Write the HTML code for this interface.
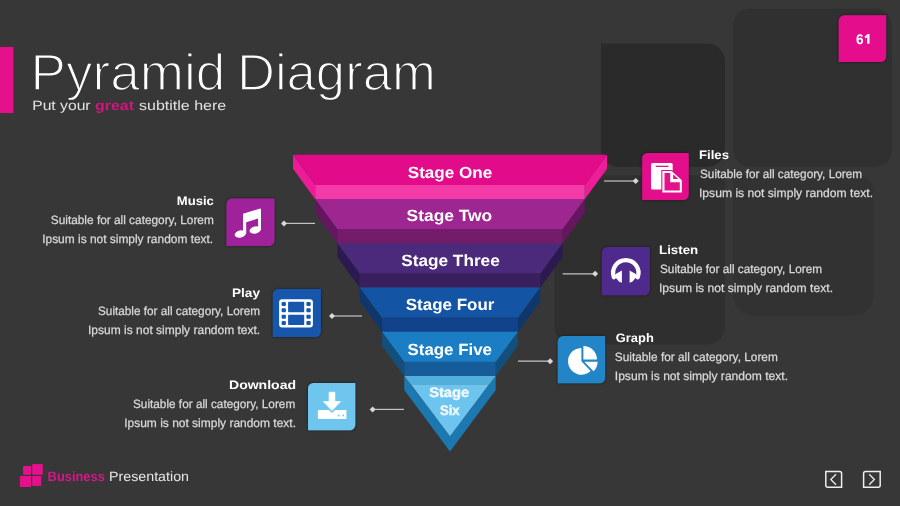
<!DOCTYPE html>
<html><head><meta charset="utf-8"><style>
html,body{margin:0;padding:0;background:#373737;}
body{width:900px;height:506px;overflow:hidden;}
svg{display:block;font-family:"Liberation Sans",sans-serif;will-change:transform;text-rendering:geometricPrecision;}
</style></head><body>
<svg width="900" height="506" viewBox="0 0 900 506">
<defs><filter id="sh" x="-20%" y="-20%" width="140%" height="140%"><feGaussianBlur in="SourceAlpha" stdDeviation="1.8"/><feComponentTransfer><feFuncA type="linear" slope="0.55"/></feComponentTransfer><feMerge><feMergeNode/><feMergeNode in="SourceGraphic"/></feMerge></filter></defs>
<rect width="900" height="506" fill="#373737"/>
<path d="M554.5,175.5 H725 V326.5 A18,18 0 0 1 707,344.5 H572.5 A18,18 0 0 1 554.5,326.5 Z" fill="#2f2f2f"/>
<path d="M601,43.5 H707 A18,18 0 0 1 725,61.5 V149 A18,18 0 0 1 707,167 H619 A18,18 0 0 1 601,149 Z" fill="#2a2a2a"/>
<path d="M733,175.5 H858.5 A15,15 0 0 1 873.5,190.5 V295.5 A20,20 0 0 1 853.5,315.5 H753 A20,20 0 0 1 733,295.5 Z" fill="#323232"/>
<rect x="733" y="8.7" width="159" height="158" rx="17" fill="#303030"/>
<rect x="0" y="47" width="13.4" height="66" fill="#e4108c"/>
<polygon points="293.00,154.80 315.26,185.10 315.26,199.32 293.00,168.80" fill="#ee1c98"/>
<polygon points="607.00,154.80 584.74,185.10 584.74,199.32 607.00,168.80" fill="#ee1c98"/>
<polygon points="293.00,154.80 607.00,154.80 584.74,185.10 315.26,185.10" fill="#e20b8a"/>
<polygon points="315.26,184.90 584.74,184.90 584.74,199.32 315.26,199.32" fill="#f43aa6"/>
<polygon points="315.26,199.02 337.52,229.32 337.52,243.54 315.26,213.02" fill="#661660"/>
<polygon points="584.74,199.02 562.48,229.32 562.48,243.54 584.74,213.02" fill="#661660"/>
<polygon points="315.26,199.02 584.74,199.02 562.48,229.32 337.52,229.32" fill="#9e2690"/>
<polygon points="337.52,229.12 562.48,229.12 562.48,243.54 337.52,243.54" fill="#741c6a"/>
<polygon points="337.52,243.24 359.78,273.54 359.78,287.76 337.52,257.24" fill="#2c1950"/>
<polygon points="562.48,243.24 540.22,273.54 540.22,287.76 562.48,257.24" fill="#2c1950"/>
<polygon points="337.52,243.24 562.48,243.24 540.22,273.54 359.78,273.54" fill="#4b2a7c"/>
<polygon points="359.78,273.34 540.22,273.34 540.22,287.76 359.78,287.76" fill="#3a1f5e"/>
<polygon points="359.78,287.46 382.04,317.76 382.04,331.98 359.78,301.46" fill="#0f376c"/>
<polygon points="540.22,287.46 517.96,317.76 517.96,331.98 540.22,301.46" fill="#0f376c"/>
<polygon points="359.78,287.46 540.22,287.46 517.96,317.76 382.04,317.76" fill="#1454a4"/>
<polygon points="382.04,317.56 517.96,317.56 517.96,331.98 382.04,331.98" fill="#12428a"/>
<polygon points="382.04,331.68 404.30,361.98 404.30,376.20 382.04,345.68" fill="#124f7c"/>
<polygon points="517.96,331.68 495.70,361.98 495.70,376.20 517.96,345.68" fill="#124f7c"/>
<polygon points="382.04,331.68 517.96,331.68 495.70,361.98 404.30,361.98" fill="#1b7dc4"/>
<polygon points="404.30,361.78 495.70,361.78 495.70,376.20 404.30,376.20" fill="#165c98"/>
<polygon points="404.30,375.90 450.00,436.30 450.00,451.40 404.30,389.90" fill="#1b78b0"/>
<polygon points="495.70,375.90 450.00,436.30 450.00,451.40 495.70,389.90" fill="#1b78b0"/>
<polygon points="404.30,375.90 495.70,375.90 488.97,384.80 411.03,384.80" fill="#52afdc"/>
<polygon points="411.03,384.60 488.97,384.60 450.00,436.30" fill="#6dc5ef"/>
<line x1="284.0" y1="223.4" x2="315.0" y2="223.4" stroke="#c4c4c4" stroke-width="1.2"/><path d="M284.0,220.4 l3,3 l-3,3 l-3,-3 z" fill="#d8d8d8"/>
<line x1="332.0" y1="316.0" x2="362.0" y2="316.0" stroke="#c4c4c4" stroke-width="1.2"/><path d="M332.0,313.0 l3,3 l-3,3 l-3,-3 z" fill="#d8d8d8"/>
<line x1="372.6" y1="409.4" x2="404.0" y2="409.4" stroke="#c4c4c4" stroke-width="1.2"/><path d="M372.6,406.4 l3,3 l-3,3 l-3,-3 z" fill="#d8d8d8"/>
<line x1="604.0" y1="181.0" x2="635.7" y2="181.0" stroke="#c4c4c4" stroke-width="1.2"/><path d="M635.7,178.0 l3,3 l-3,3 l-3,-3 z" fill="#d8d8d8"/>
<line x1="562.7" y1="273.8" x2="595.1" y2="273.8" stroke="#c4c4c4" stroke-width="1.2"/><path d="M595.1,270.8 l3,3 l-3,3 l-3,-3 z" fill="#d8d8d8"/>
<line x1="518.0" y1="361.2" x2="550.1" y2="361.2" stroke="#c4c4c4" stroke-width="1.2"/><path d="M550.1,358.2 l3,3 l-3,3 l-3,-3 z" fill="#d8d8d8"/>
<path filter="url(#sh)" d="M232.00,198.50 H274.50 V240.40 A5.50,5.50 0 0 1 269.00,245.90 H226.50 V204.00 A5.50,5.50 0 0 1 232.00,198.50 Z" fill="#a0229a"/>
<path d="M243,213.8 L259.4,208.7 Q261,208.3 261,209.8 V230 H258.1 V218.6 L246.2,222.3 V233.5 H243 Z" fill="#ffffff"/>
<ellipse cx="240.3" cy="234" rx="5.7" ry="3.5" transform="rotate(-12 240.3 234)" fill="#ffffff"/>
<ellipse cx="255.2" cy="230" rx="5.7" ry="3.5" transform="rotate(-12 255.2 230)" fill="#ffffff"/>
<path filter="url(#sh)" d="M278.30,289.10 H320.80 V331.60 A5.50,5.50 0 0 1 315.30,337.10 H272.80 V294.60 A5.50,5.50 0 0 1 278.30,289.10 Z" fill="#1757ad"/>
<rect x="279.1" y="299.2" width="33.8" height="28.3" rx="3" fill="#ffffff"/>
<rect x="281.6" y="301.9" width="4.3" height="4.0" rx="1" fill="#1757ad"/>
<rect x="306.4" y="301.9" width="4.3" height="4.0" rx="1" fill="#1757ad"/>
<rect x="281.6" y="308.3" width="4.3" height="4.0" rx="1" fill="#1757ad"/>
<rect x="306.4" y="308.3" width="4.3" height="4.0" rx="1" fill="#1757ad"/>
<rect x="281.6" y="314.7" width="4.3" height="4.0" rx="1" fill="#1757ad"/>
<rect x="306.4" y="314.7" width="4.3" height="4.0" rx="1" fill="#1757ad"/>
<rect x="281.6" y="321.0" width="4.3" height="4.0" rx="1" fill="#1757ad"/>
<rect x="306.4" y="321.0" width="4.3" height="4.0" rx="1" fill="#1757ad"/>
<rect x="288.1" y="301.7" width="16.1" height="10.5" rx="0.8" fill="#1757ad"/>
<rect x="288.1" y="314.7" width="16.1" height="10.3" rx="0.8" fill="#1757ad"/>
<path filter="url(#sh)" d="M313.50,383.00 H355.30 V424.80 A5.50,5.50 0 0 1 349.80,430.30 H308.00 V388.50 A5.50,5.50 0 0 1 313.50,383.00 Z" fill="#6ec6ee"/>
<path d="M329.1,392.2 H334.9 V401.6 H340.6 L332,410.6 L323.4,401.6 H329.1 Z" fill="#ffffff" stroke="#ffffff" stroke-width="0.7" stroke-linejoin="round"/>
<path d="M317.9,409.9 H328.9 L332,413.0 L335.1,409.9 H346.4 V418.9 H317.9 Z" fill="#ffffff"/>
<rect x="337.8" y="414.7" width="1.6" height="1.6" fill="#6ec6ee"/>
<rect x="342.4" y="414.7" width="1.6" height="1.6" fill="#6ec6ee"/>
<path filter="url(#sh)" d="M647.70,153.00 H688.70 V194.50 A5.50,5.50 0 0 1 683.20,200.00 H642.20 V158.50 A5.50,5.50 0 0 1 647.70,153.00 Z" fill="#e4108c"/>
<rect x="651" y="163" width="21.7" height="26.4" rx="1.5" fill="#ffffff"/>
<rect x="655.7" y="165.7" width="12.8" height="1.3" fill="#e4108c"/>
<path d="M661.3,169.9 H672 L682.8,179.9 V193.6 H661.3 Z" fill="#e4108c"/>
<path d="M662.4,170.9 H671.6 L681.8,180.3 V192.6 H662.4 Z" fill="#ffffff"/>
<path d="M664.5,172.9 H670.2 V182.3 H679.8 V190.6 H664.5 Z" fill="#e4108c"/>
<path d="M673.2,174.2 V179 H678.3 Z" fill="#e4108c"/>
<path filter="url(#sh)" d="M607.40,247.00 H649.90 V289.80 A5.50,5.50 0 0 1 644.40,295.30 H601.90 V252.50 A5.50,5.50 0 0 1 607.40,247.00 Z" fill="#4d2a8c"/>
<path d="M613.87,277.24 A12.7,12.7 0 1 1 637.73,277.24" fill="none" stroke="#ffffff" stroke-width="4.3" stroke-linecap="round"/>
<path d="M621.9,270.6 V282.8 L619.2,281.8 L614.2,276 L616.2,273.8 Z" fill="#ffffff"/>
<path d="M629.6,270.6 V282.8 L632.3,281.8 L637.3,276 L635.3,273.8 Z" fill="#ffffff"/>
<path filter="url(#sh)" d="M563.30,336.00 H605.10 V377.80 A5.50,5.50 0 0 1 599.60,383.30 H557.80 V341.50 A5.50,5.50 0 0 1 563.30,336.00 Z" fill="#2385c8"/>
<path d="M581.40,361.30 L590.62,371.02 A13.40,13.40 0 1 1 581.40,347.90 Z" fill="#ffffff"/>
<path d="M583.40,359.60 L583.40,346.00 A13.60,13.60 0 0 1 597.00,359.60 Z" fill="#ffffff"/>
<path d="M584.30,361.70 L597.60,361.70 A13.30,13.30 0 0 1 593.54,371.27 Z" fill="#ffffff"/>
<path filter="url(#sh)" d="M844.20,15.30 H886.10 V56.50 A5.50,5.50 0 0 1 880.60,62.00 H838.70 V20.80 A5.50,5.50 0 0 1 844.20,15.30 Z" fill="#e4108c"/>
<path d="M867.5,34 H869.5 V43.7 H867.2 V37.2 L865.4,38.4 L864.5,36.7 Z" fill="#ffffff"/>
<text x="30.60" y="89.90" font-size="51.40" fill="#ffffff" font-weight="normal" textLength="194.80" lengthAdjust="spacingAndGlyphs"  stroke="#373737" stroke-width="1.6">Pyramid</text>
<text x="236.90" y="89.90" font-size="51.40" fill="#ffffff" font-weight="normal" textLength="198.90" lengthAdjust="spacingAndGlyphs"  stroke="#373737" stroke-width="1.6">Diagram</text>
<text x="32.20" y="110.00" font-size="13.60" fill="#e2e2e2" font-weight="normal" textLength="58.40" lengthAdjust="spacingAndGlyphs" >Put your</text>
<text x="95.00" y="110.00" font-size="13.60" fill="#d3137f" font-weight="bold" textLength="39.00" lengthAdjust="spacingAndGlyphs" >great</text>
<text x="139.00" y="110.00" font-size="13.60" fill="#e2e2e2" font-weight="normal" textLength="87.20" lengthAdjust="spacingAndGlyphs" >subtitle here</text>
<text x="407.80" y="178.00" font-size="16.20" fill="#ffffff" font-weight="bold" textLength="84.40" lengthAdjust="spacingAndGlyphs" >Stage One</text>
<text x="406.60" y="221.20" font-size="16.20" fill="#ffffff" font-weight="bold" textLength="85.60" lengthAdjust="spacingAndGlyphs" >Stage Two</text>
<text x="401.20" y="265.80" font-size="16.20" fill="#ffffff" font-weight="bold" textLength="98.60" lengthAdjust="spacingAndGlyphs" >Stage Three</text>
<text x="405.80" y="309.80" font-size="16.20" fill="#ffffff" font-weight="bold" textLength="88.60" lengthAdjust="spacingAndGlyphs" >Stage Four</text>
<text x="407.50" y="355.20" font-size="16.20" fill="#ffffff" font-weight="bold" textLength="84.50" lengthAdjust="spacingAndGlyphs" >Stage Five</text>
<text x="429.20" y="397.20" font-size="13.80" fill="#eef8fd" font-weight="bold" textLength="40.00" lengthAdjust="spacingAndGlyphs"  stroke="#eef8fd" stroke-width="0.45">Stage</text>
<text x="440.00" y="415.20" font-size="13.80" fill="#eef8fd" font-weight="bold" textLength="19.60" lengthAdjust="spacingAndGlyphs"  stroke="#eef8fd" stroke-width="0.45">Six</text>
<text x="176.80" y="205.40" font-size="12.30" fill="#ffffff" font-weight="bold" textLength="37.00" lengthAdjust="spacingAndGlyphs" >Music</text>
<text x="50.80" y="223.90" font-size="12.10" fill="#d9d9d9" font-weight="normal" textLength="163.00" lengthAdjust="spacingAndGlyphs"  stroke="#d9d9d9" stroke-width="0.25">Suitable for all category, Lorem</text>
<text x="42.20" y="243.20" font-size="12.10" fill="#d9d9d9" font-weight="normal" textLength="171.00" lengthAdjust="spacingAndGlyphs"  stroke="#d9d9d9" stroke-width="0.25">Ipsum is not simply random text.</text>
<text x="232.00" y="296.60" font-size="12.30" fill="#ffffff" font-weight="bold" textLength="28.00" lengthAdjust="spacingAndGlyphs" >Play</text>
<text x="98.00" y="314.90" font-size="12.10" fill="#d9d9d9" font-weight="normal" textLength="162.00" lengthAdjust="spacingAndGlyphs"  stroke="#d9d9d9" stroke-width="0.25">Suitable for all category, Lorem</text>
<text x="88.00" y="334.00" font-size="12.10" fill="#d9d9d9" font-weight="normal" textLength="172.20" lengthAdjust="spacingAndGlyphs"  stroke="#d9d9d9" stroke-width="0.25">Ipsum is not simply random text.</text>
<text x="229.00" y="389.00" font-size="12.30" fill="#ffffff" font-weight="bold" textLength="67.00" lengthAdjust="spacingAndGlyphs" >Download</text>
<text x="133.00" y="407.90" font-size="12.10" fill="#d9d9d9" font-weight="normal" textLength="162.20" lengthAdjust="spacingAndGlyphs"  stroke="#d9d9d9" stroke-width="0.25">Suitable for all category, Lorem</text>
<text x="124.20" y="427.00" font-size="12.10" fill="#d9d9d9" font-weight="normal" textLength="171.80" lengthAdjust="spacingAndGlyphs"  stroke="#d9d9d9" stroke-width="0.25">Ipsum is not simply random text.</text>
<text x="699.00" y="159.40" font-size="12.30" fill="#ffffff" font-weight="bold" textLength="30.00" lengthAdjust="spacingAndGlyphs" >Files</text>
<text x="700.00" y="178.10" font-size="12.10" fill="#d9d9d9" font-weight="normal" textLength="162.00" lengthAdjust="spacingAndGlyphs"  stroke="#d9d9d9" stroke-width="0.25">Suitable for all category, Lorem</text>
<text x="699.00" y="197.30" font-size="12.10" fill="#d9d9d9" font-weight="normal" textLength="174.00" lengthAdjust="spacingAndGlyphs"  stroke="#d9d9d9" stroke-width="0.25">Ipsum is not simply random text.</text>
<text x="659.00" y="254.40" font-size="12.30" fill="#ffffff" font-weight="bold" textLength="39.20" lengthAdjust="spacingAndGlyphs" >Listen</text>
<text x="660.00" y="272.90" font-size="12.10" fill="#d9d9d9" font-weight="normal" textLength="162.00" lengthAdjust="spacingAndGlyphs"  stroke="#d9d9d9" stroke-width="0.25">Suitable for all category, Lorem</text>
<text x="659.00" y="292.20" font-size="12.10" fill="#d9d9d9" font-weight="normal" textLength="174.00" lengthAdjust="spacingAndGlyphs"  stroke="#d9d9d9" stroke-width="0.25">Ipsum is not simply random text.</text>
<text x="615.80" y="342.40" font-size="12.30" fill="#ffffff" font-weight="bold" textLength="38.00" lengthAdjust="spacingAndGlyphs" >Graph</text>
<text x="614.80" y="360.90" font-size="12.10" fill="#d9d9d9" font-weight="normal" textLength="163.00" lengthAdjust="spacingAndGlyphs"  stroke="#d9d9d9" stroke-width="0.25">Suitable for all category, Lorem</text>
<text x="614.80" y="380.20" font-size="12.10" fill="#d9d9d9" font-weight="normal" textLength="173.20" lengthAdjust="spacingAndGlyphs"  stroke="#d9d9d9" stroke-width="0.25">Ipsum is not simply random text.</text>
<text x="856.00" y="43.90" font-size="14.00" fill="#ffffff" font-weight="bold" textLength="7.60" lengthAdjust="spacingAndGlyphs" >6</text>
<text x="47.60" y="480.70" font-size="13.60" fill="#d8168a" font-weight="bold" textLength="57.20" lengthAdjust="spacingAndGlyphs" >Business</text>
<text x="109.00" y="480.70" font-size="13.60" fill="#e6e6e6" font-weight="normal" textLength="80.00" lengthAdjust="spacingAndGlyphs" >Presentation</text>
<rect x="23.1" y="466" width="7.9" height="8.8" fill="#e4108c"/>
<rect x="32.2" y="464.1" width="10.6" height="10.7" fill="#e4108c"/>
<rect x="19.9" y="476" width="11.1" height="11" fill="#e4108c"/>
<rect x="32.2" y="476" width="9" height="9.9" fill="#e4108c"/>
<path d="M825.8,471.6 H839.6 Q841.6,471.6 841.6,473.6 V487.2 H827.8 Q825.8,487.2 825.8,485.2 Z" fill="none" stroke="#eee" stroke-width="1.5"/>
<path d="M836,474.2 L830.8,479.5 L836,484.8" fill="none" stroke="#eee" stroke-width="1.3"/>
<path d="M865.6,471.6 H880.2 V485.2 Q880.2,487.2 878.2,487.2 H863.6 V473.6 Q863.6,471.6 865.6,471.6 Z" fill="none" stroke="#eee" stroke-width="1.5"/>
<path d="M869.2,474.2 L874.4,479.5 L869.2,484.8" fill="none" stroke="#eee" stroke-width="1.3"/>
</svg>
</body></html>
